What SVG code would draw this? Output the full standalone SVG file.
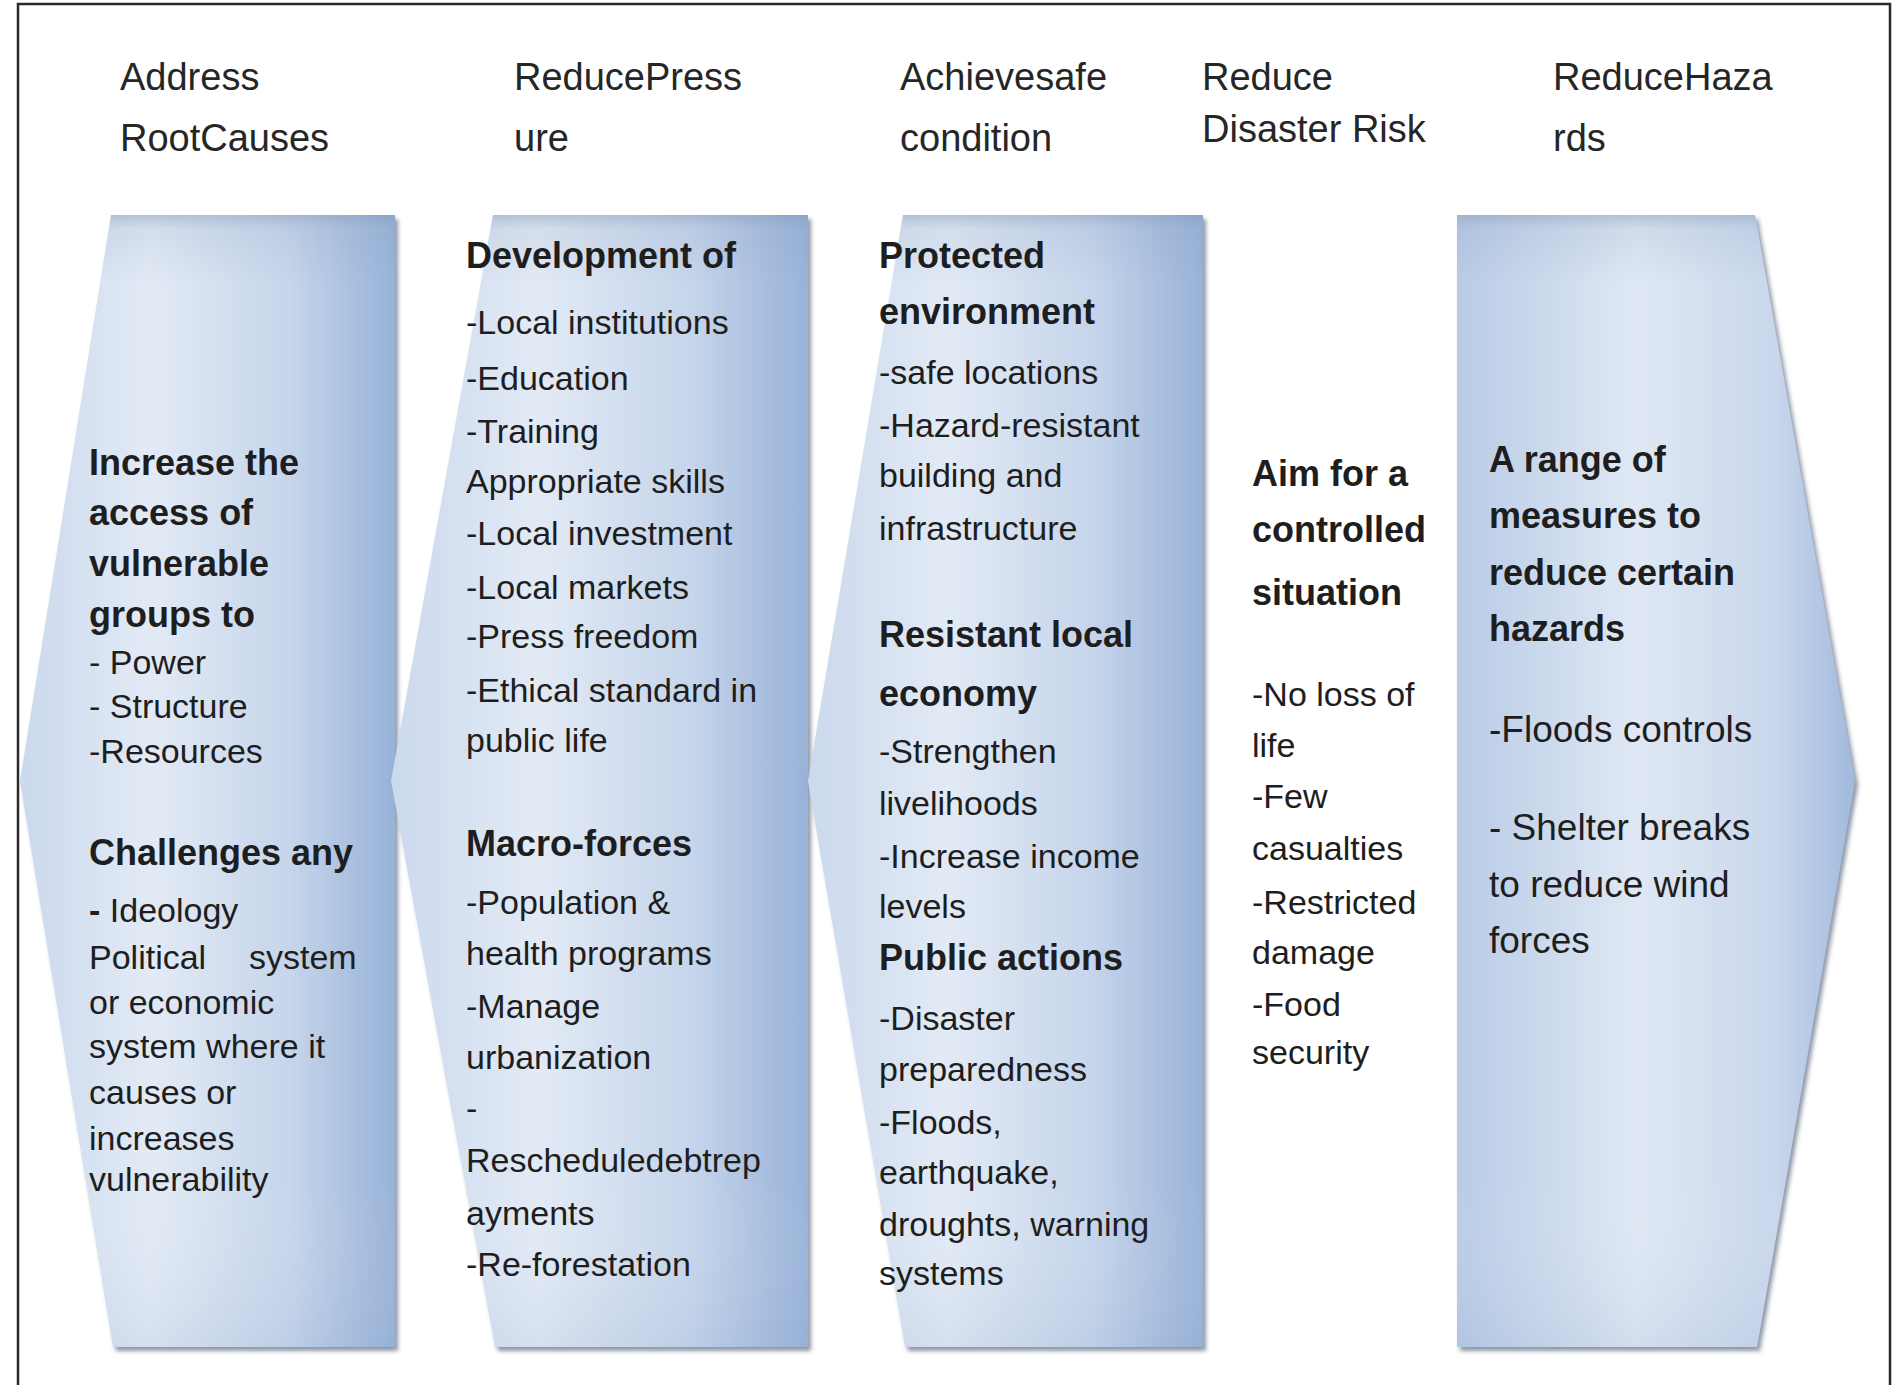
<svg xmlns="http://www.w3.org/2000/svg" width="1904" height="1385" viewBox="0 0 1904 1385">
<style>
text{font-family:"Liberation Sans",Arial,sans-serif;fill:#1e1e1e}
.h{font-size:38px;fill:#262626}
.b{font-size:36px;font-weight:bold}
.r{font-size:34px}
.r5{font-size:37px}
</style>
<defs>
<linearGradient id="gA" x1="0" y1="0" x2="1" y2="0">
<stop offset="0" stop-color="#cbd9ed"/>
<stop offset="0.35" stop-color="#e2eaf5"/>
<stop offset="0.72" stop-color="#c6d5eb"/>
<stop offset="1" stop-color="#98b2d8"/>
</linearGradient>
<linearGradient id="gB" x1="0" y1="0" x2="1" y2="0">
<stop offset="0" stop-color="#b9cbe6"/>
<stop offset="0.45" stop-color="#dfe8f4"/>
<stop offset="0.8" stop-color="#c9d7ec"/>
<stop offset="1" stop-color="#a2b9dd"/>
</linearGradient>
<linearGradient id="gTop" x1="0" y1="0" x2="0" y2="1">
<stop offset="0" stop-color="#7f95b4" stop-opacity="0.45"/>
<stop offset="0.012" stop-color="#7f95b4" stop-opacity="0.15"/>
<stop offset="0.06" stop-color="#7f95b4" stop-opacity="0"/>
<stop offset="0.85" stop-color="#ffffff" stop-opacity="0"/>
<stop offset="1" stop-color="#8aa3c8" stop-opacity="0.15"/>
</linearGradient>
<filter id="sh" x="-5%" y="-5%" width="115%" height="115%">
<feDropShadow dx="3" dy="4" stdDeviation="2" flood-color="#5d6b80" flood-opacity="0.7"/>
</filter>
</defs>
<rect width="1904" height="1385" fill="#ffffff"/>
<path d="M18,1385 V4 H1890 V1385" fill="none" stroke="#2a2a2a" stroke-width="2.5"/>

<g id="headers">
<text class="h" x="120" y="90">Address</text>
<text class="h" x="120" y="151">RootCauses</text>
<text class="h" x="514" y="90">ReducePress</text>
<text class="h" x="514" y="151">ure</text>
<text class="h" x="900" y="90">Achievesafe</text>
<text class="h" x="900" y="151">condition</text>
<text class="h" x="1202" y="90">Reduce</text>
<text class="h" x="1202" y="142">Disaster Risk</text>
<text class="h" x="1553" y="90">ReduceHaza</text>
<text class="h" x="1553" y="151">rds</text>
</g>

<g id="connectors"></g>

<g id="node-root-causes">
<path d="M111,215 L395,215 L395,1347 L113,1347 L20,781 Z" fill="url(#gA)" filter="url(#sh)"/>
<path d="M111,215 L395,215 L395,1347 L113,1347 L20,781 Z" fill="url(#gTop)"/>
<text class="b" x="89" y="475">Increase the</text>
<text class="b" x="89" y="525">access of</text>
<text class="b" x="89" y="576">vulnerable</text>
<text class="b" x="89" y="627">groups to</text>
<text class="r" x="89" y="674">- Power</text>
<text class="r" x="89" y="718">- Structure</text>
<text class="r" x="89" y="763">-Resources</text>
<text class="b" x="89" y="865">Challenges any</text>
<text class="r" x="89" y="922"><tspan font-weight="bold">-</tspan> Ideology</text>
<text class="r" x="89" y="969">Political<tspan x="249">system</tspan></text>
<text class="r" x="89" y="1014">or economic</text>
<text class="r" x="89" y="1058">system where it</text>
<text class="r" x="89" y="1104">causes or</text>
<text class="r" x="89" y="1150">increases</text>
<text class="r" x="89" y="1191">vulnerability</text>
</g>

<g id="node-reduce-pressure">
<path d="M493,215 L808,215 L808,1347 L495,1347 L391,781 Z" fill="url(#gA)" filter="url(#sh)"/>
<path d="M493,215 L808,215 L808,1347 L495,1347 L391,781 Z" fill="url(#gTop)"/>
<text class="b" x="466" y="268">Development of</text>
<text class="r" x="466" y="334">-Local institutions</text>
<text class="r" x="466" y="390">-Education</text>
<text class="r" x="466" y="443">-Training</text>
<text class="r" x="466" y="493">Appropriate skills</text>
<text class="r" x="466" y="545">-Local investment</text>
<text class="r" x="466" y="599">-Local markets</text>
<text class="r" x="466" y="648">-Press freedom</text>
<text class="r" x="466" y="702">-Ethical standard in</text>
<text class="r" x="466" y="752">public life</text>
<text class="b" x="466" y="856">Macro-forces</text>
<text class="r" x="466" y="914">-Population &amp;</text>
<text class="r" x="466" y="965">health programs</text>
<text class="r" x="466" y="1018">-Manage</text>
<text class="r" x="466" y="1069">urbanization</text>
<text class="r" x="466" y="1120">-</text>
<text class="r" x="466" y="1172">Rescheduledebtrep</text>
<text class="r" x="466" y="1225">ayments</text>
<text class="r" x="466" y="1276">-Re-forestation</text>
</g>

<g id="node-safe-condition">
<path d="M903,215 L1203,215 L1203,1347 L905,1347 L808,781 Z" fill="url(#gA)" filter="url(#sh)"/>
<path d="M903,215 L1203,215 L1203,1347 L905,1347 L808,781 Z" fill="url(#gTop)"/>
<text class="b" x="879" y="268">Protected</text>
<text class="b" x="879" y="324">environment</text>
<text class="r" x="879" y="384">-safe locations</text>
<text class="r" x="879" y="437">-Hazard-resistant</text>
<text class="r" x="879" y="487">building and</text>
<text class="r" x="879" y="540">infrastructure</text>
<text class="b" x="879" y="647">Resistant local</text>
<text class="b" x="879" y="706">economy</text>
<text class="r" x="879" y="763">-Strengthen</text>
<text class="r" x="879" y="815">livelihoods</text>
<text class="r" x="879" y="868">-Increase income</text>
<text class="r" x="879" y="918">levels</text>
<text class="b" x="879" y="970">Public actions</text>
<text class="r" x="879" y="1030">-Disaster</text>
<text class="r" x="879" y="1081">preparedness</text>
<text class="r" x="879" y="1134">-Floods,</text>
<text class="r" x="879" y="1184">earthquake,</text>
<text class="r" x="879" y="1236">droughts, warning</text>
<text class="r" x="879" y="1285">systems</text>
</g>

<g id="node-disaster-risk">
<text class="b" x="1252" y="486">Aim for a</text>
<text class="b" x="1252" y="542">controlled</text>
<text class="b" x="1252" y="605">situation</text>
<text class="r" x="1252" y="706">-No loss of</text>
<text class="r" x="1252" y="757">life</text>
<text class="r" x="1252" y="808">-Few</text>
<text class="r" x="1252" y="860">casualties</text>
<text class="r" x="1252" y="914">-Restricted</text>
<text class="r" x="1252" y="964">damage</text>
<text class="r" x="1252" y="1016">-Food</text>
<text class="r" x="1252" y="1064">security</text>
</g>

<g id="node-reduce-hazards">
<path d="M1457,215 L1755,215 L1855,781 L1757,1347 L1457,1347 Z" fill="url(#gB)" filter="url(#sh)"/>
<path d="M1457,215 L1755,215 L1855,781 L1757,1347 L1457,1347 Z" fill="url(#gTop)"/>
<text class="b" x="1489" y="472">A range of</text>
<text class="b" x="1489" y="528">measures to</text>
<text class="b" x="1489" y="585">reduce certain</text>
<text class="b" x="1489" y="641">hazards</text>
<text class="r5" x="1489" y="742">-Floods controls</text>
<text class="r5" x="1489" y="840">- Shelter breaks</text>
<text class="r5" x="1489" y="897">to reduce wind</text>
<text class="r5" x="1489" y="953">forces</text>
</g>
</svg>
